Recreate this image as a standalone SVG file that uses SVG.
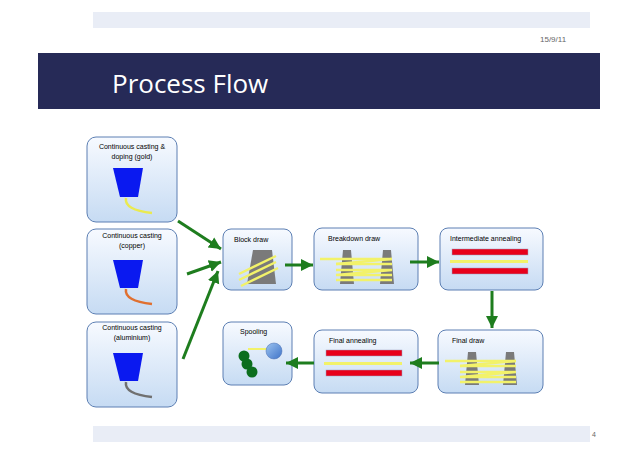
<svg xmlns="http://www.w3.org/2000/svg" width="638" height="451" viewBox="0 0 638 451">
<defs>
<linearGradient id="g" x1="0" y1="0" x2="0" y2="1"><stop offset="0" stop-color="#f7faff"/><stop offset="1" stop-color="#c6dbf3"/></linearGradient>
<marker id="ah" markerWidth="5" markerHeight="5" refX="4" refY="2.5" orient="auto" markerUnits="strokeWidth"><path d="M0,0.5 L4,2.5 L0,4.5z" fill="#1e7d1e"/></marker>
<linearGradient id="ball" x1="0" y1="0" x2="1" y2="1"><stop offset="0" stop-color="#9cc3f0"/><stop offset="1" stop-color="#3f73c8"/></linearGradient>
</defs>
<style>
.box{fill:url(#g);stroke:#5c7fb3;stroke-width:1}
.t{font-family:"Liberation Sans",Arial,sans-serif;font-size:7px;fill:#000}
.c{stroke:#1e7d1e;stroke-width:3;fill:none;marker-end:url(#ah)}
.cup{fill:#0a19f0}
.y{stroke:#f2f26a;stroke-width:2.5;fill:none}
.red{fill:#e8001a;stroke:#9aa0c0;stroke-width:0.5}
.post{fill:#7a7a7a}
</style>
<rect width="638" height="451" fill="#fff"/>
<rect x="93" y="12" width="497" height="16" fill="#e9edf6"/>
<text x="540" y="42" style="font-family:'Liberation Sans',Arial,sans-serif;font-size:8px;fill:#666">15/9/11</text>
<rect x="38" y="53" width="562" height="56" fill="#262a57"/>
<text x="112" y="93" style="font-family:'Open Sans',sans-serif;font-size:26px;fill:#fff">Process Flow</text>
<rect x="93" y="426" width="497" height="16" fill="#e9edf6"/>
<text x="592" y="437" style="font-family:'Liberation Sans',Arial,sans-serif;font-size:7px;fill:#666">4</text>

<g id="gold">
<rect class="box" x="87" y="137" width="90" height="85" rx="9"/>
<text class="t" x="132" y="149" text-anchor="middle">Continuous casting &amp;</text>
<text class="t" x="132" y="159" text-anchor="middle">doping (gold)</text>
<path class="cup" d="M113,168 H143 L138,197 H120z"/>
<path d="M126,198 Q124,210 152,213" stroke="#eaea50" stroke-width="2.5" fill="none"/>
</g>
<g id="copper">
<rect class="box" x="87" y="229" width="90" height="85" rx="9"/>
<text class="t" x="132" y="238" text-anchor="middle">Continuous casting</text>
<text class="t" x="132" y="248" text-anchor="middle">(copper)</text>
<path class="cup" d="M113,260 H143 L138,288 H120z"/>
<path d="M126,289 Q124,301 152,304" stroke="#e07030" stroke-width="2.5" fill="none"/>
</g>
<g id="aluminium">
<rect class="box" x="87" y="322" width="90" height="85" rx="9"/>
<text class="t" x="132" y="330" text-anchor="middle">Continuous casting</text>
<text class="t" x="132" y="340" text-anchor="middle">(aluminium)</text>
<path class="cup" d="M113,353 H143 L138,381 H120z"/>
<path d="M126,382 Q124,394 152,397" stroke="#707070" stroke-width="2.5" fill="none"/>
</g>
<g id="blockdraw">
<rect class="box" x="223" y="229" width="69" height="61" rx="8"/>
<text class="t" x="234" y="242">Block draw</text>
<path class="post" d="M253,250 H272 L276,284 H247z"/>
<path class="y" d="M239,274 L276,256 M239,280 L276,262 M241,286 L278,268" stroke-width="3"/>
</g>
<g id="breakdown">
<rect class="box" x="314" y="228" width="104" height="62" rx="8"/>
<text class="t" x="328" y="241">Breakdown draw</text>
<path class="post" d="M343,250 H351 L354,284 H340z M383,250 H391 L394,284 H380z"/>
<path class="y" d="M320,259 H392 M336,264 H392 M336,270 H392 L336,275 H392 M336,280 H392" stroke-width="2"/>
<path class="y" d="M336,264 L392,259" stroke-width="1.5"/>
</g>
<g id="intermediate">
<rect class="box" x="440" y="228" width="103" height="62" rx="8"/>
<text class="t" x="450" y="241">Intermediate annealing</text>
<rect class="red" x="452" y="249" width="76" height="6"/>
<rect x="450" y="260" width="78" height="3" fill="#f2f26a"/>
<rect class="red" x="452" y="268" width="76" height="6"/>
</g>
<g id="spooling">
<rect class="box" x="223" y="322" width="69" height="63" rx="8"/>
<text class="t" x="240" y="334">Spooling</text>
<path d="M248,349 H270" stroke="#f2f26a" stroke-width="2"/>
<circle cx="274" cy="351" r="8" fill="url(#ball)" stroke="#4a6fb0" stroke-width="0.5"/>
<circle cx="244" cy="356" r="5.5" fill="#0b6e1e"/>
<circle cx="247" cy="364" r="5.5" fill="#0b6e1e"/>
<circle cx="252" cy="372" r="5.5" fill="#0b6e1e"/>
</g>
<g id="finalannealing">
<rect class="box" x="314" y="330" width="104" height="63" rx="8"/>
<text class="t" x="329" y="343">Final annealing</text>
<rect class="red" x="326" y="350" width="76" height="6"/>
<rect x="324" y="362" width="78" height="3" fill="#f2f26a"/>
<rect class="red" x="326" y="370" width="76" height="6"/>
</g>
<g id="finaldraw">
<rect class="box" x="438" y="330" width="105" height="63" rx="8"/>
<text class="t" x="452" y="343">Final draw</text>
<path class="post" d="M468,352 H476 L479,385 H465z M506,352 H514 L517,385 H503z"/>
<path class="y" d="M445,361 H516 M460,366 H516 M460,372 H516 L460,377 H516 M460,382 H516" stroke-width="2"/>
<path class="y" d="M460,366 L516,361" stroke-width="1.5"/>
</g>
<g id="connectors">
<path class="c" d="M178,221 L221,249"/>
<path class="c" d="M187,274 L221,262"/>
<path class="c" d="M183,359 L218,271"/>
<path class="c" d="M285,265 L313,265"/>
<path class="c" d="M410,262 L439,262"/>
<path class="c" d="M492,291 L492,328"/>
<path class="c" d="M439,363 L410,363"/>
<path class="c" d="M314,363 L286,363"/>
</g>
</svg>
